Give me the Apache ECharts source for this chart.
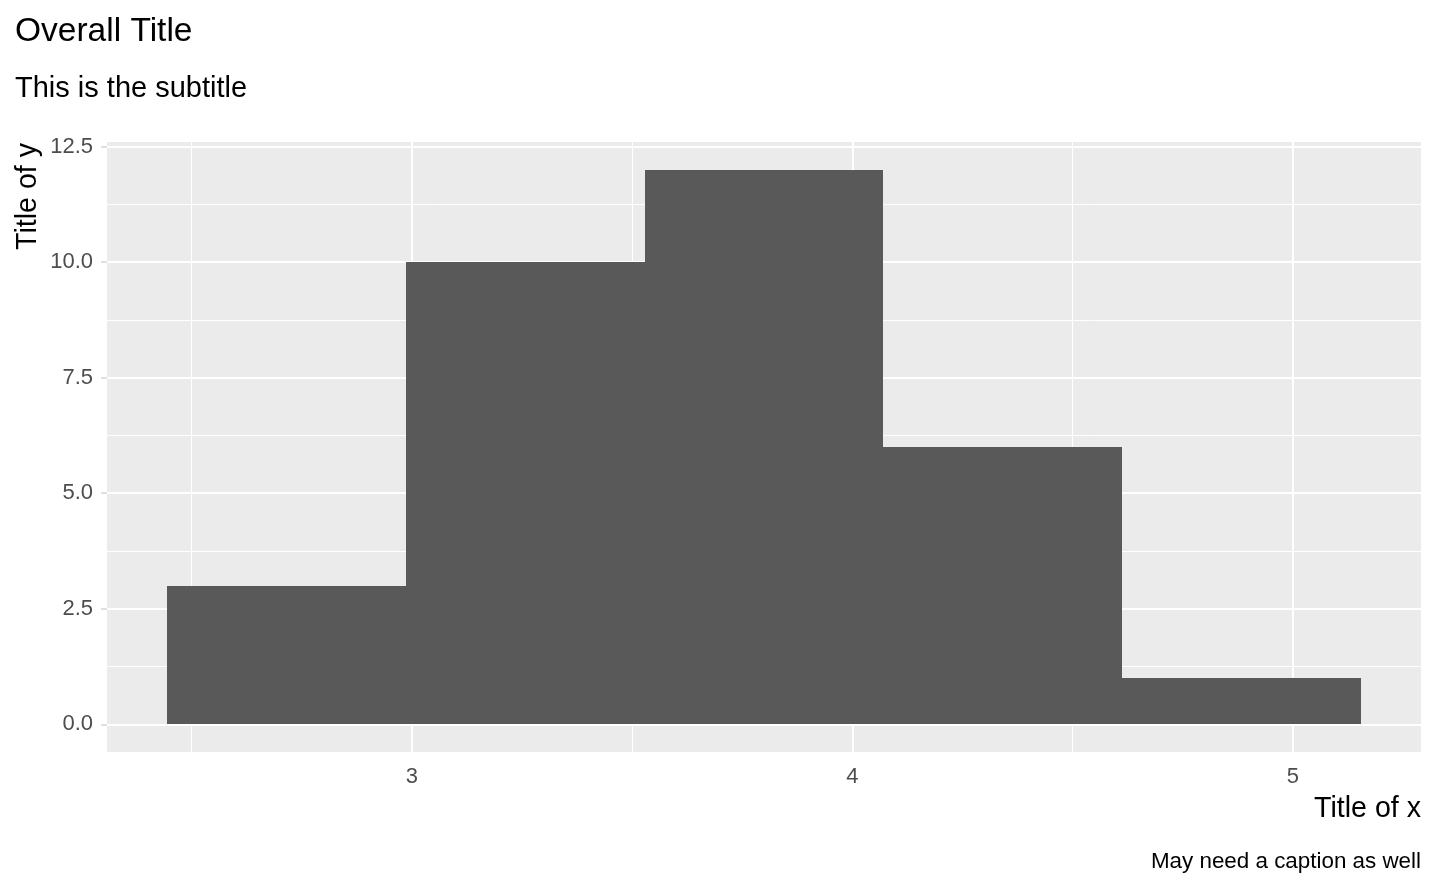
<!DOCTYPE html>
<html>
<head>
<meta charset="utf-8">
<script src="https://cdn.jsdelivr.net/npm/echarts@6/dist/echarts.min.js"></script>
<style>
html,body{margin:0;padding:0;background:#fff;}
#chart{width:1436px;height:887px;}
</style>
</head>
<body>
<div id="chart"></div>
<script>
// ---- data ----
const binEdges = [2.4432, 2.9856, 3.5280, 4.0704, 4.6128, 5.1552];
const counts = [3, 10, 12, 6, 1];
const xTicks = [3, 4, 5];
const xMinorGrid = [2.5, 3.5, 4.5];
const yTicks = [0, 2.5, 5, 7.5, 10, 12.5];
const yMinorGrid = [1.25, 3.75, 6.25, 8.75, 11.25];
const titleText = 'Overall Title';
const subtitleText = 'This is the subtitle';
const xTitle = 'Title of x';
const yTitle = 'Title of y';
const captionText = 'May need a caption as well';

// ---- chart ----
const FONT = '"Liberation Sans", Arial, sans-serif';
const chart = echarts.init(document.getElementById('chart'), null, {renderer: 'canvas'});

const histData = counts.map((c, i) => [binEdges[i], binEdges[i + 1], c]);

const gridLines = [];
xTicks.forEach(v => gridLines.push({xAxis: v, lineStyle: {color: '#FFFFFF', width: 2, type: 'solid'}}));
xMinorGrid.forEach(v => gridLines.push({xAxis: v, lineStyle: {color: '#FFFFFF', width: 1, type: 'solid'}}));
yTicks.forEach(v => gridLines.push({yAxis: v, lineStyle: {color: '#FFFFFF', width: 2, type: 'solid'}}));
yMinorGrid.forEach(v => gridLines.push({yAxis: v, lineStyle: {color: '#FFFFFF', width: 1, type: 'solid'}}));

const option = {
  animation: false,
  backgroundColor: '#FFFFFF',
  title: [
    {text: titleText, left: 15, top: 14.6, padding: 0,
     textStyle: {fontFamily: FONT, fontSize: 33.5, lineHeight: 33.5, fontWeight: 'normal', color: '#000'}},
    {text: subtitleText, left: 15, top: 74.2, padding: 0,
     textStyle: {fontFamily: FONT, fontSize: 29, lineHeight: 29, fontWeight: 'normal', color: '#000'}},
    {text: xTitle, right: 15, top: 794.5, padding: 0,
     textStyle: {fontFamily: FONT, fontSize: 28.6, lineHeight: 28.6, fontWeight: 'normal', color: '#000'}},
    {text: captionText, right: 15, top: 850.7, padding: 0,
     textStyle: {fontFamily: FONT, fontSize: 22.4, lineHeight: 22.4, fontWeight: 'normal', color: '#000'}}
  ],
  graphic: [
    {type: 'text', x: 14.3, y: 143, rotation: Math.PI / 2,
     style: {text: yTitle, fontFamily: FONT, fontSize: 28.6, lineHeight: 28.6, fill: '#000',
             textAlign: 'right', align: 'right', textVerticalAlign: 'top', verticalAlign: 'top'}}
  ],
  grid: {left: 107, right: 15, top: 142, bottom: 135, show: true,
         backgroundColor: '#EBEBEB', borderWidth: 0, containLabel: false},
  xAxis: {
    type: 'value', min: 2.3076, max: 5.2908,
    axisLine: {show: false},
    axisTick: {show: true, length: 6, customValues: xTicks, lineStyle: {color: '#E0E0E0', width: 2}},
    axisLabel: {show: true, customValues: xTicks, margin: 14, color: '#4D4D4D',
                fontFamily: FONT, fontSize: 22, formatter: v => String(v)},
    splitLine: {show: false}, minorSplitLine: {show: false}
  },
  yAxis: {
    type: 'value', min: -0.6, max: 12.6,
    axisLine: {show: false},
    axisTick: {show: true, length: 6, customValues: yTicks, lineStyle: {color: '#E0E0E0', width: 2}},
    axisLabel: {show: true, customValues: yTicks, margin: 14, color: '#4D4D4D',
                fontFamily: FONT, fontSize: 22, formatter: v => v.toFixed(1)},
    splitLine: {show: false}, minorSplitLine: {show: false}
  },
  series: [
    {
      type: 'line', data: [], z: 1, silent: true,
      markLine: {silent: true, symbol: ['none', 'none'], label: {show: false},
                 emphasis: {disabled: true}, animation: false, z: 1, data: gridLines}
    },
    {
      type: 'custom', z: 5, silent: true,
      data: histData,
      encode: {x: [0, 1], y: 2},
      renderItem: function (params, api) {
        const x0 = api.value(0), x1 = api.value(1), c = api.value(2);
        const pTop = api.coord([x0, c]);
        const pBot = api.coord([x1, 0]);
        const l = Math.round(pTop[0]), r = Math.round(pBot[0]);
        const t = Math.round(pTop[1]), b = Math.round(pBot[1]);
        return {
          type: 'rect',
          shape: {x: l, y: t, width: r - l, height: b - t},
          style: {fill: '#595959'}
        };
      }
    }
  ]
};
chart.setOption(option);
</script>
</body>
</html>
